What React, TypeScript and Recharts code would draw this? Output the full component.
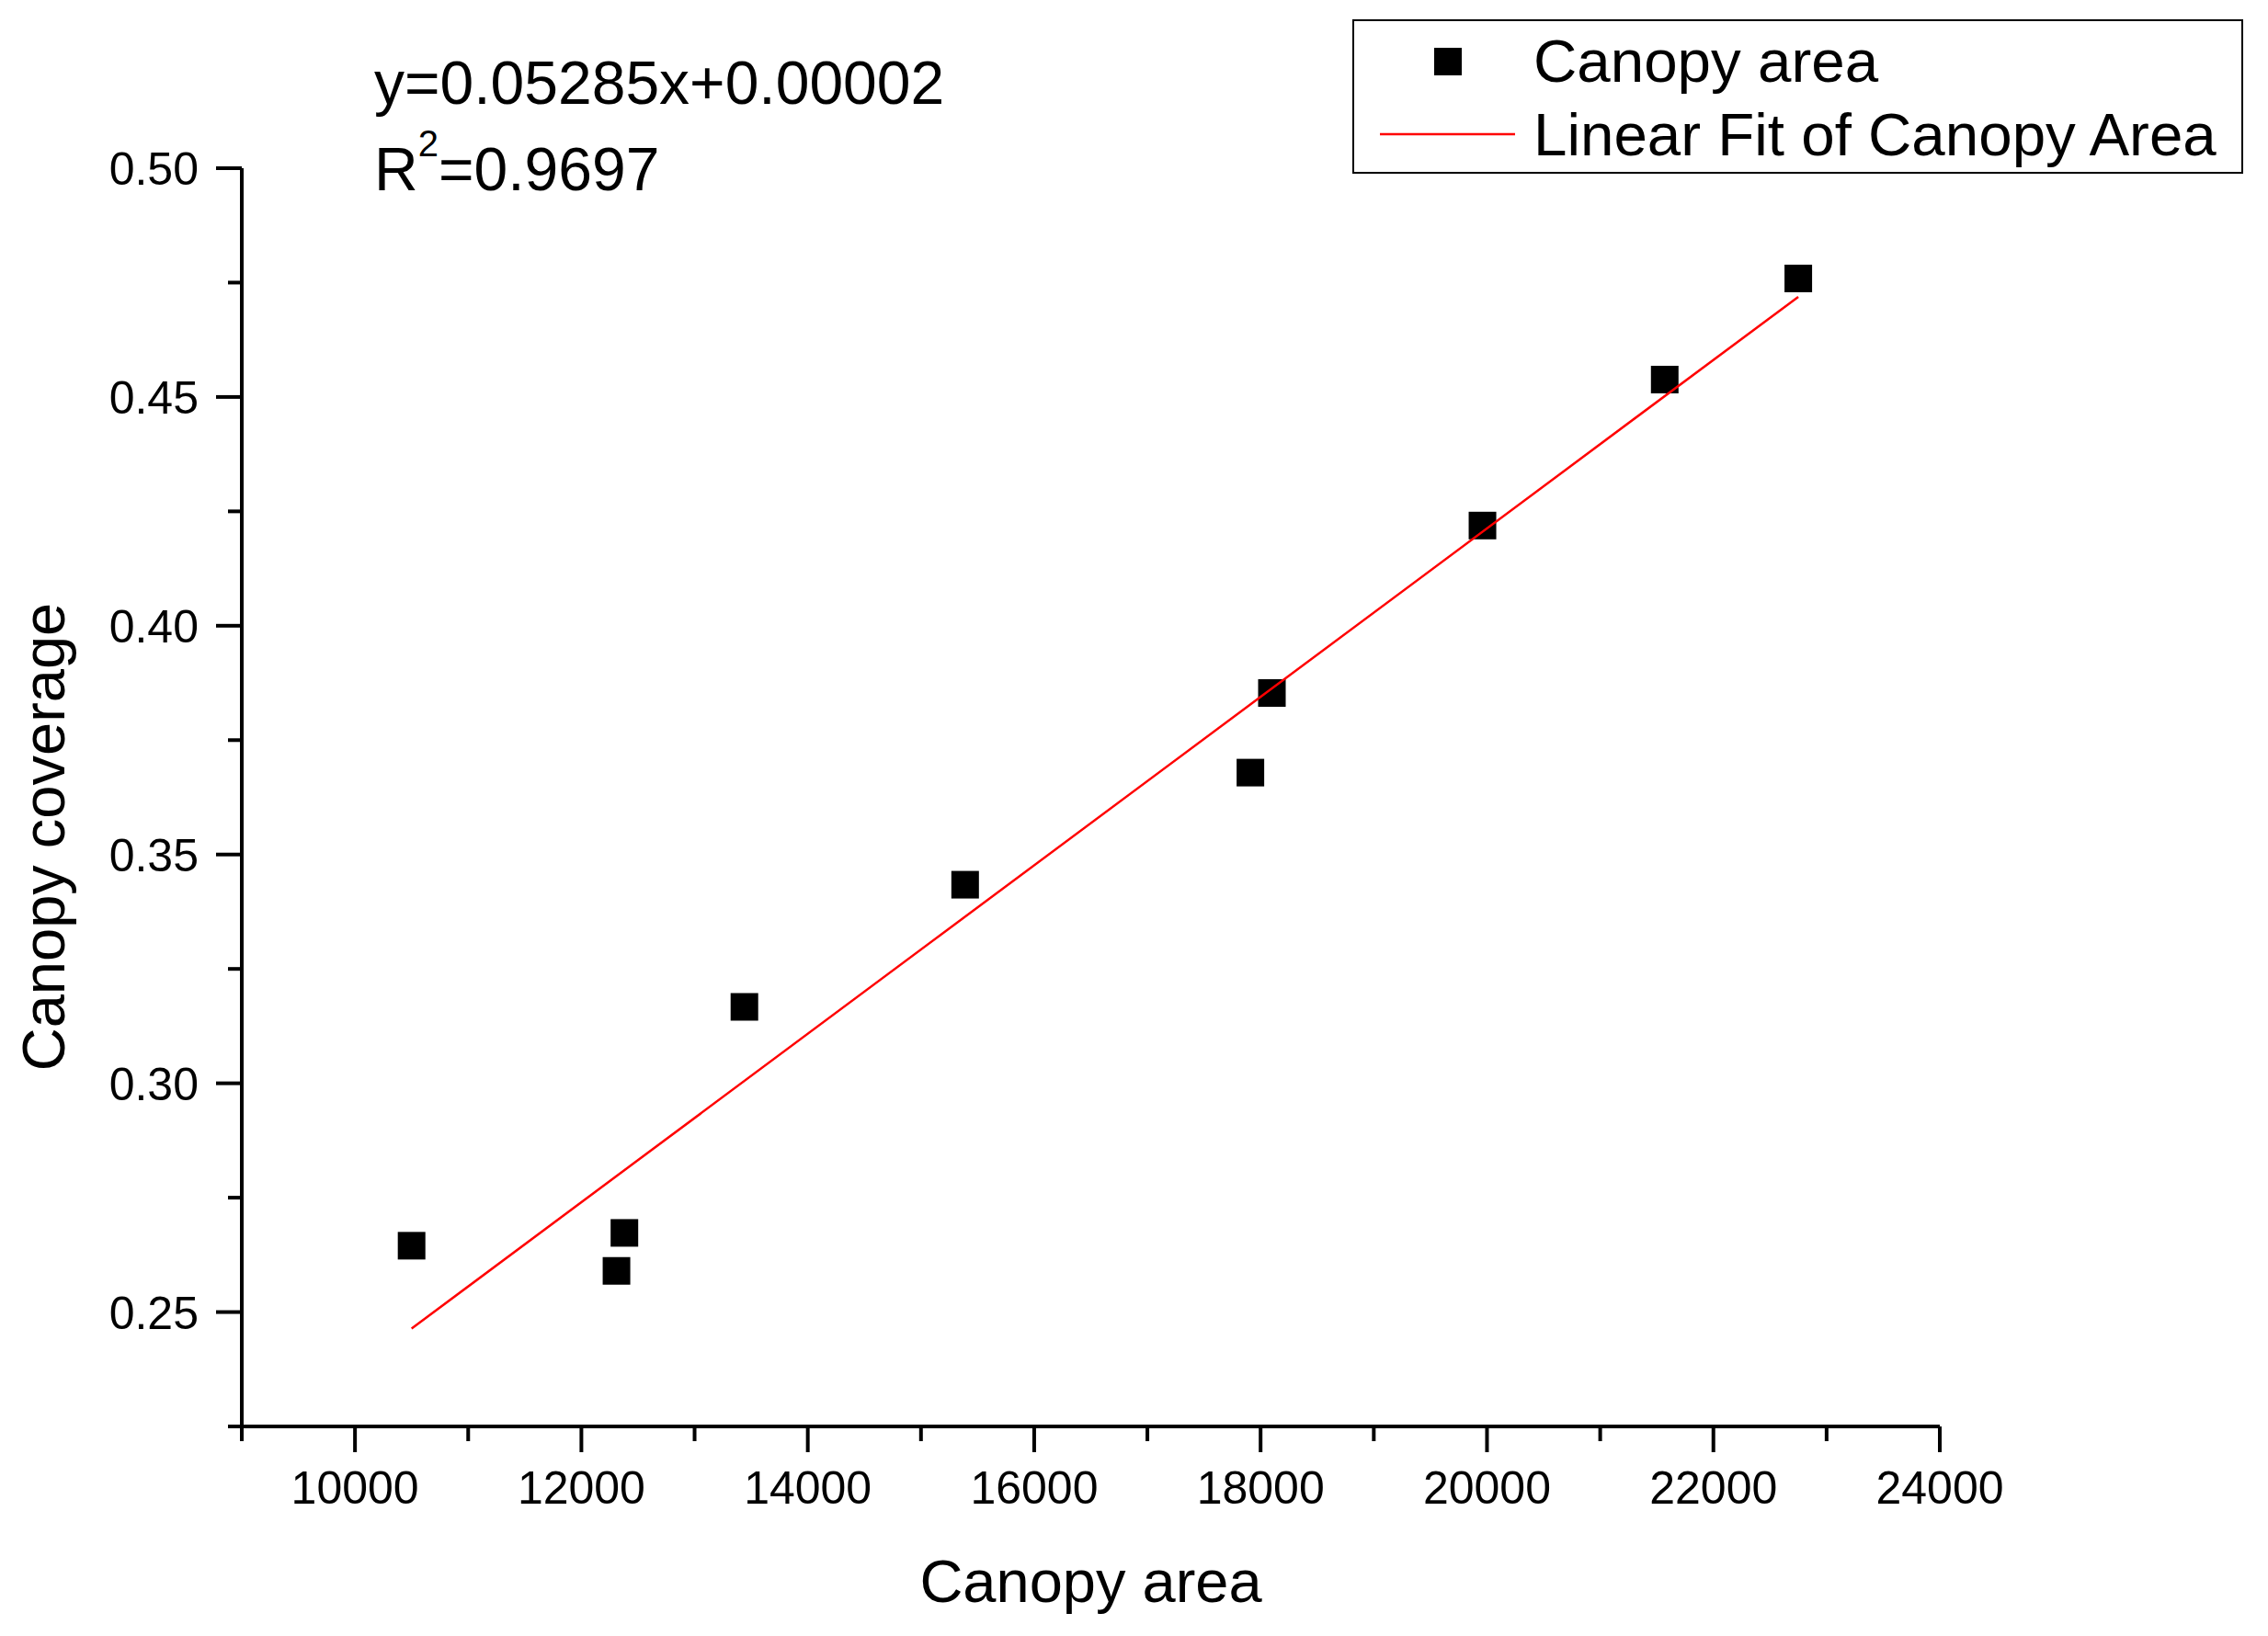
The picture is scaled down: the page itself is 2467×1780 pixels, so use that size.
import React from 'react';
import { ScatterChart, Scatter, XAxis, YAxis, Legend } from 'recharts';

const FONT = '"Liberation Sans", Arial, sans-serif';

// measured points (canopy area vs canopy coverage)
const canopyArea = [10500, 12310, 12380, 13440, 15390, 17910, 18100, 19960, 21570, 22750];
const canopyCoverage = [0.2645, 0.259, 0.2673, 0.3167, 0.3434, 0.3679, 0.3853, 0.4219, 0.4538, 0.4759];

// ends of the fitted line as drawn
const fitArea = [10500, 22750];
const fitCoverage = [0.2464, 0.4719];

const xTicks = [9000, 10000, 11000, 12000, 13000, 14000, 15000, 16000, 17000, 18000, 19000, 20000, 21000, 22000, 23000, 24000];
const yTicks = [0.225, 0.25, 0.275, 0.3, 0.325, 0.35, 0.375, 0.4, 0.425, 0.45, 0.475, 0.5];

const pointData = canopyArea.map((x, i) => ({ x, y: canopyCoverage[i] }));
const fitData = fitArea.map((x, i) => ({ x, y: fitCoverage[i] }));

const XTick = (props: any) => {
  const { x, y, payload } = props;
  const v = payload.value;
  const major = v % 2000 === 0;
  return (
    <g>
      <line x1={x} x2={x} y1={y} y2={y + (major ? 28 : 16)} stroke="#000" strokeWidth={4} />
      {major && (
        <text x={x} y={y + 84} textAnchor="middle" fontSize={50} fontFamily={FONT} fill="#000">
          {v}
        </text>
      )}
    </g>
  );
};

const YTick = (props: any) => {
  const { x, y, payload } = props;
  const v = payload.value;
  const major = Math.round(v * 1000) % 50 === 0;
  return (
    <g>
      <line x1={x - (major ? 28 : 15)} x2={x} y1={y} y2={y} stroke="#000" strokeWidth={4} />
      {major && (
        <text x={x - 47} y={y + 18} textAnchor="end" fontSize={50} fontFamily={FONT} fill="#000">
          {v.toFixed(2)}
        </text>
      )}
    </g>
  );
};

const XTitle = (props: any) => {
  const vb = props.viewBox || { x: 263, y: 1552, width: 1847 };
  return (
    <text x={vb.x + vb.width / 2} y={vb.y + 191} textAnchor="middle" fontSize={65} fontFamily={FONT} fill="#000">
      Canopy area
    </text>
  );
};

const YTitle = (props: any) => {
  const vb = props.viewBox || { x: 0, y: 183, height: 1369 };
  const cx = 70;
  const cy = vb.y + vb.height / 2 + 43;
  return (
    <text x={cx} y={cy} transform={`rotate(-90, ${cx}, ${cy})`} textAnchor="middle" fontSize={65} fontFamily={FONT} fill="#000">
      Canopy coverage
    </text>
  );
};

const SquareDot = (props: any) => (
  <rect x={props.cx - 15} y={props.cy - 15} width={30} height={30} fill="#000" />
);

const LegendBox = (props: any) => {
  const items = props.payload || [];
  const first = items[0]?.value ?? 'Canopy area';
  const second = items[1]?.value ?? 'Linear Fit of Canopy Area';
  return (
    <svg width={970} height={169} style={{ display: 'block' }}>
      <rect x={1} y={1} width={967} height={166} fill="#fff" stroke="#000" strokeWidth={2} />
      <rect x={89} y={31} width={30} height={30} fill="#000" />
      <text x={197} y={68} fontSize={65.5} fontFamily={FONT} fill="#000">{first}</text>
      <line x1={30} x2={177} y1={125} y2={125} stroke="#ff0000" strokeWidth={2.5} />
      <text x={197} y={148} fontSize={65.5} fontFamily={FONT} fill="#000">{second}</text>
    </svg>
  );
};

export default function App() {
  return (
    <div style={{ position: 'relative', width: 2467, height: 1780, fontFamily: FONT, background: '#fff' }}>
      <style>{'body{margin:0;background:#fff}'}</style>
      <ScatterChart width={2467} height={1780} margin={{ top: 183, right: 357, bottom: 0, left: 0 }}>
        <XAxis
          type="number"
          dataKey="x"
          domain={[9000, 24000]}
          ticks={xTicks}
          interval={0}
          tickLine={false}
          tickSize={0}
          tickMargin={0}
          tick={<XTick />}
          axisLine={{ stroke: '#000', strokeWidth: 4 }}
          height={228}
          allowDataOverflow
          label={XTitle}
        />
        <YAxis
          type="number"
          dataKey="y"
          domain={[0.225, 0.5]}
          ticks={yTicks}
          interval={0}
          tickLine={false}
          tickSize={0}
          tickMargin={0}
          tick={<YTick />}
          axisLine={{ stroke: '#000', strokeWidth: 4 }}
          width={263}
          allowDataOverflow
          label={YTitle}
        />
        <Legend
          layout="horizontal"
          verticalAlign="middle"
          align="center"
          content={LegendBox}
          wrapperStyle={{ left: 1471, top: 21, width: 970, height: 169 }}
        />
        <Scatter
          name="Canopy area"
          data={pointData}
          fill="#000"
          shape={SquareDot}
          isAnimationActive={false}
        />
        <Scatter
          name="Linear Fit of Canopy Area"
          data={fitData}
          fill="#ff0000"
          line={{ stroke: '#ff0000', strokeWidth: 2.5 }}
          lineType="joint"
          shape={() => <g />}
          isAnimationActive={false}
        />
      </ScatterChart>
      <svg
        width={2467}
        height={1780}
        style={{ position: 'absolute', left: 0, top: 0, pointerEvents: 'none' }}
      >
        <text x={407} y={113} fontSize={66} fontFamily={FONT} fill="#000">
          y=0.05285x+0.00002
        </text>
        <text x={407} y={207} fontSize={66} fontFamily={FONT} fill="#000">
          R
          <tspan dy={-37} fontSize={40}>2</tspan>
          <tspan dy={37} fontSize={66}>=0.9697</tspan>
        </text>
      </svg>
    </div>
  );
}
